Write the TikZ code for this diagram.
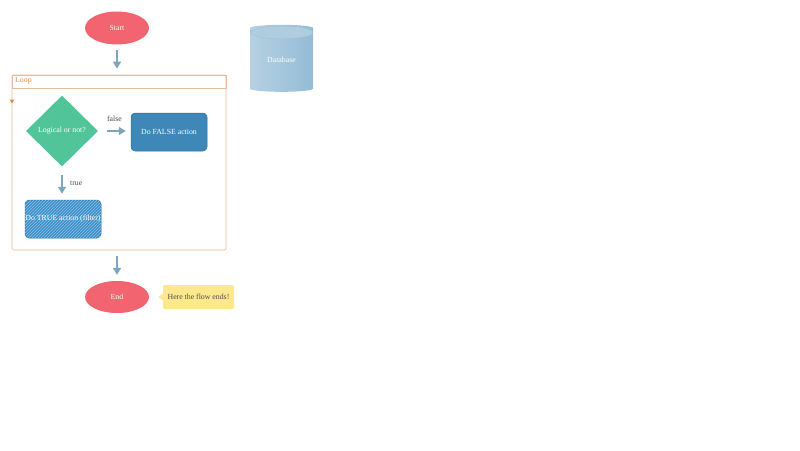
\documentclass[tikz,border=0pt]{standalone}
\usepackage{fontspec}
\setmainfont{Liberation Serif}
\usetikzlibrary{arrows.meta,shapes.geometric,shapes.callouts,patterns}

\definecolor{startred}{HTML}{F2646F}
\definecolor{condgreen}{HTML}{52C49A}
\definecolor{actblue}{HTML}{3D88B8}
\definecolor{hatchblue}{HTML}{3A8FCB}
\definecolor{arrowgray}{HTML}{7DA5BE}
\definecolor{loopline}{HTML}{E6BC9A}
\definecolor{looptext}{HTML}{D98E55}
\definecolor{noteyellow}{HTML}{FDE98B}
\definecolor{dbtop}{HTML}{A9C9DD}

\tikzset{
	flow/.style = {draw=arrowgray, line width=1.6pt, -{Triangle[width=8pt,length=7pt]}},
	terminal/.style = {ellipse, fill=startred, text=white, minimum width=64, minimum height=33, inner sep=0},
	action/.style = {rectangle, rounded corners=4, draw=actblue!80!black, line width=0.5pt, text=white, minimum width=76, minimum height=38, inner sep=0},
	loopbox/.style = {draw=loopline, rectangle, line width=0.7pt, minimum width=214, inner sep=0}
}

\begin{document}
\begin{tikzpicture}[x=1pt, y=-1pt, font=\fontsize{7.8}{9}\selectfont]
	\useasboundingbox (0,0) rectangle (800,450);
	% loop container
	\node[loopbox, rounded corners=1.5, minimum height=175] (loop) at (119,162.5) {};
	\node[loopbox, minimum height=13] (loophead) at (119,81.5) {};
	\node[anchor=west, text=looptext, inner sep=0] (looplabel) at (15,81) {Loop};
	\fill[looptext] (9.5,99.5) -- (14.5,99.5) -- (12,103.5) -- cycle;
	% nodes
		\node[terminal] (start) at (117,28) {Start};
		\node[diamond, aspect=1, fill=condgreen, text=white, minimum width=72, minimum height=71, inner sep=0] (cond) at (62,131) {Logical or not?};
		\node[action, fill=actblue] (falseact) at (169,132) {Do FALSE action};
		\node[action, fill=hatchblue, postaction={pattern=north east lines, pattern color=white!45!hatchblue}] (trueact) at (63,219) {Do TRUE action (filter)};
		\node[terminal, minimum height=32] (stop) at (117,297) {End};
		\node[rectangle callout, fill=noteyellow, rounded corners=1.5, text=black!70, minimum width=71, minimum height=24, inner sep=0, callout absolute pointer={(158,297)}, callout pointer width=7] (note) at (198.5,297) {Here the flow ends!};
		\node[cylinder, shape border rotate=90, aspect=0.22, minimum width=63, minimum height=67, inner sep=0, left color=dbtop!85!white, right color=dbtop!80!actblue, text=white] (db) at (281.5,60) {Database};
		\draw[draw=dbtop!90!actblue, line width=0.4pt, fill=dbtop!92!white] (281.5,32.5) ellipse [x radius=31.3, y radius=6.3];
	% connectors
		\draw[flow, shorten <=5, shorten >=6] (start) -- (loophead.north -| start);
		\draw[flow, shorten <=9, shorten >=5] (cond.east) -- (falseact.west |- cond.east) node[midway, above=5, text=black!70] {false};
		\draw[flow, shorten <=8, shorten >=6] (cond.south) -- (trueact.north -| cond.south) node[midway, right=4, text=black!70] {true};
		\draw[flow, shorten <=6, shorten >=6] (loop.south -| stop) -- (stop);
	\end{tikzpicture}
\end{document}
